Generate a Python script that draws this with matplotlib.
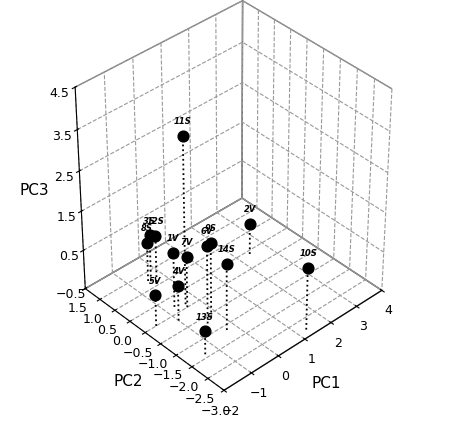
import matplotlib
matplotlib.use("Agg")
import matplotlib.pyplot as plt
import numpy as np

labels = ["11S","2V","10S","13S","5V","4V","1V","7V","6V","9S","14S","12S","8S","3S"]
pc1 = [-0.4, 2.4, 1.3, -1.4, -1.6, -1.0, -0.7, -0.45, -0.5, -0.25, -0.3, -0.35, -0.5, -0.45]
pc2 = [-0.4, -0.1, -2.8, -1.9, -0.5, -0.7, -0.3, -0.5, -1.2, -1.1, -1.64, 0.6, 0.75, 0.7]
pc3 = [3.7, 0.3, 1.1, 0.1, 0.3, 0.4, 0.9, 0.8, 1.5, 1.4, 1.2, 0.7, 0.5, 0.7]

fig = plt.figure(figsize=(4.74, 4.40), dpi=100)
ax = fig.add_subplot(111, projection="3d")
ax.set_xlim(-2, 4); ax.set_ylim(-3, 1.5); ax.set_zlim(-0.5, 4.5)
ax.set_box_aspect((1, 0.95, 1.15), zoom=0.88)
for x, y, z, l in zip(pc1, pc2, pc3, labels):
    ax.plot([x, x], [y, y], [-0.5, z], 'k:', lw=1.3)
    ax.text(x, y, z + 0.3, l, fontsize=6, fontstyle='italic', fontweight='bold', ha='center')
ax.scatter(pc1, pc2, pc3, s=60, c='k', depthshade=False)
ax.set_xticks(range(-2, 5))
ax.set_yticks(np.arange(-3, 1.6, 0.5))
ax.set_zticks(np.arange(-0.5, 4.6, 1))
ax.set_xlabel("PC1", fontsize=11); ax.set_ylabel("PC2", fontsize=11); ax.set_zlabel("PC3", fontsize=11)
for a in (ax.xaxis, ax.yaxis, ax.zaxis):
    a.pane.fill = False
    a.pane.set_edgecolor('k')
    a._axinfo["grid"].update(color='#999999', linestyle='--', linewidth=0.8)
ax.tick_params(labelsize=9, pad=0)
ax.view_init(elev=38, azim=-133)
fig.subplots_adjust(left=0.0, right=0.96, bottom=0.05, top=1.05)
fig.savefig("out.png")
